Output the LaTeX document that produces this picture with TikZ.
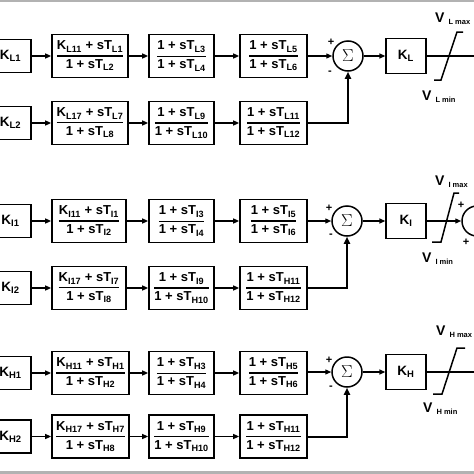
\documentclass[tikz,border=0pt]{standalone}
\usepackage{amsmath}
\usepackage{fontspec}
\setmainfont{Liberation Sans}
\usetikzlibrary{arrows.meta}
\newcommand\tfr[2]{$\genfrac{}{}{1.1pt}{0}{\text{#1}}{\text{#2}}$}
\newcommand\sbs[1]{\textsubscript{#1}}
\newcommand\vsub[1]{V\hspace{4pt}\raisebox{-2.5pt}{\fontsize{7.5}{9}\selectfont #1}}
\begin{document}
\begin{tikzpicture}[x=1pt,y=-1pt,
  tfbox/.style={draw,line width=1.7pt,minimum height=43pt,inner sep=0pt,font=\fontsize{13}{15}\selectfont\bfseries},
  gbox/.style={draw,line width=1.7pt,minimum width=41pt,minimum height=33pt,inner sep=0pt,font=\fontsize{13.5}{15}\selectfont\bfseries},
  kbox/.style={draw,line width=1.3pt,minimum width=40pt,minimum height=35pt,inner sep=0pt,font=\fontsize{13.5}{15}\selectfont\bfseries},
  sumc/.style={draw,circle,line width=1.5pt,minimum size=30pt,inner sep=0pt,font=\fontsize{17}{17}\selectfont},
  flow/.style={line width=1.3pt,-{Triangle[length=6pt,width=5pt]}},
  plain/.style={line width=1.3pt},
  fb/.style={line width=2pt,-{Triangle[length=7pt,width=6pt]}},
  lim/.style={line width=1.5pt},
  sgn/.style={inner sep=0pt,font=\fontsize{11}{12}\selectfont\bfseries},
  vlab/.style={anchor=base west,inner sep=0pt,font=\fontsize{14}{16}\selectfont\bfseries}]
\clip (0,0) rectangle (474,474);
\fill[white] (0,0) rectangle (474,474);
\fill[gray!60] (0,0) rectangle (474,2);
\fill[gray!60] (0,470.5) rectangle (474,474);

% ---------- L channel ----------
\node[gbox] (kl1) at (10.5,56) {K\sbs{L1}};
\node[tfbox,minimum width=76pt] (l2) at (90,56) {\tfr{K\sbs{L11} + sT\sbs{L1}}{1 + sT\sbs{L2}}};
\node[tfbox,minimum width=65pt] (l3) at (181.5,56) {\tfr{1 + sT\sbs{L3}}{1 + sT\sbs{L4}}};
\node[tfbox,minimum width=67pt] (l4) at (273.5,56) {\tfr{1 + sT\sbs{L5}}{1 + sT\sbs{L6}}};
\node[sumc] (sl) at (348,56) {$\Sigma$};
\node[kbox] (kl) at (406,56) {K\sbs{L}};
\node[gbox] (kl2) at (10.5,123) {K\sbs{L2}};
\node[tfbox,minimum width=76pt] (l8) at (90,123) {\tfr{K\sbs{L17} + sT\sbs{L7}}{1 + sT\sbs{L8}}};
\node[tfbox,minimum width=65pt] (l9) at (181.5,123) {\tfr{1 + sT\sbs{L9}}{1 + sT\sbs{L10}}};
\node[tfbox,minimum width=67pt] (l10) at (273.5,123) {\tfr{1 + sT\sbs{L11}}{1 + sT\sbs{L12}}};
\coordinate (lout) at (474,56);
\draw[flow] (kl1) -- (l2);
\draw[flow] (l2) -- (l3);
\draw[flow] (l3) -- (l4);
\draw[flow] (l4) -- (sl);
\draw[flow] (sl) -- (kl);
\draw[flow] (kl2) -- (l8);
\draw[flow] (l8) -- (l9);
\draw[flow] (l9) -- (l10);
\draw[fb] (l10.east) -| (sl.south);
\draw[plain] (kl.east) -- (lout);
\draw[lim] (434,80) -- (441,80) -- (457,32) -- (463,32);
\node[sgn] (slp) at (331,42) {+};
\node[sgn] (slm) at (330,73) {-};
\node[vlab] (vlmax) at (435,22) {\vsub{L max}};
\node[vlab] (vlmin) at (422,100) {\vsub{L min}};

% ---------- I channel ----------
\node[gbox] (ki1) at (10.5,221) {K\sbs{I1}};
\node[tfbox,minimum width=74pt] (i2) at (89,221) {\tfr{K\sbs{I11} + sT\sbs{I1}}{1 + sT\sbs{I2}}};
\node[tfbox,minimum width=65pt] (i3) at (181.5,221) {\tfr{1 + sT\sbs{I3}}{1 + sT\sbs{I4}}};
\node[tfbox,minimum width=67pt] (i4) at (273.5,221) {\tfr{1 + sT\sbs{I5}}{1 + sT\sbs{I6}}};
\node[sumc] (si) at (347,221) {$\Sigma$};
\node[kbox] (ki) at (406,221) {K\sbs{I}};
\node[sumc] (si2) at (477,221) {};
\node[gbox] (ki2) at (10.5,288) {K\sbs{I2}};
\node[tfbox,minimum width=74pt] (i8) at (89,288) {\tfr{K\sbs{I17} + sT\sbs{I7}}{1 + sT\sbs{I8}}};
\node[tfbox,minimum width=65pt] (i9) at (181.5,288) {\tfr{1 + sT\sbs{I9}}{1 + sT\sbs{H10}}};
\node[tfbox,minimum width=67pt] (i10) at (273.5,288) {\tfr{1 + sT\sbs{H11}}{1 + sT\sbs{H12}}};
\draw[flow] (ki1) -- (i2);
\draw[flow] (i2) -- (i3);
\draw[flow] (i3) -- (i4);
\draw[flow] (i4) -- (si);
\draw[flow] (si) -- (ki);
\draw[flow] (ki2) -- (i8);
\draw[flow] (i8) -- (i9);
\draw[flow] (i9) -- (i10);
\draw[fb] (i10.east) -| (si.south);
\draw[flow] (ki.east) -- (si2.west);
\draw[lim] (432,242) -- (441,242) -- (454,193) -- (459,193);
\node[sgn] (sip) at (329,208) {+};
\node[sgn] (sim) at (331,236) {-};
\node[sgn] (si2a) at (461,205) {+};
\node[sgn] (si2b) at (466,242) {+};
\node[vlab] (vimax) at (435,185) {\vsub{I max}};
\node[vlab] (vimin) at (422,262) {\vsub{I min}};

% ---------- H channel ----------
\node[gbox] (kh1) at (10.5,373) {K\sbs{H1}};
\node[tfbox,minimum width=77pt] (h2) at (90.5,373) {\tfr{K\sbs{H11} + sT\sbs{H1}}{1 + sT\sbs{H2}}};
\node[tfbox,minimum width=65pt] (h3) at (181.5,373) {\tfr{1 + sT\sbs{H3}}{1 + sT\sbs{H4}}};
\node[tfbox,minimum width=67pt] (h4) at (273.5,373) {\tfr{1 + sT\sbs{H5}}{1 + sT\sbs{H6}}};
\node[sumc] (sh) at (347,372) {$\Sigma$};
\node[kbox] (kh) at (406,372) {K\sbs{H}};
\node[gbox] (kh2) at (10.5,436.5) {K\sbs{H2}};
\node[tfbox,minimum width=77pt] (h8) at (90.5,436.5) {\tfr{K\sbs{H17} + sT\sbs{H7}}{1 + sT\sbs{H8}}};
\node[tfbox,minimum width=65pt] (h9) at (181.5,436.5) {\tfr{1 + sT\sbs{H9}}{1 + sT\sbs{H10}}};
\node[tfbox,minimum width=67pt] (h10) at (273.5,436.5) {\tfr{1 + sT\sbs{H11}}{1 + sT\sbs{H12}}};
\coordinate (hout) at (474,372);
\draw[flow] (kh1) -- (h2);
\draw[flow] (h2) -- (h3);
\draw[flow] (h3) -- (h4);
\draw[flow] (h4.east |- sh.west) -- (sh);
\draw[flow] (sh) -- (kh);
\draw[flow] (kh2) -- (h8);
\draw[flow] (h8) -- (h9);
\draw[flow] (h9) -- (h10);
\draw[fb] (h10.east) -| (sh.south);
\draw[plain] (kh.east) -- (hout);
\draw[lim] (433,394) -- (442,394) -- (457,348) -- (465,348);
\node[sgn] (shp) at (329,360) {+};
\node[sgn] (shm) at (331,388) {-};
\node[vlab] (vhmax) at (436,335) {\vsub{H max}};
\node[vlab] (vhmin) at (423,412) {\vsub{H min}};
\end{tikzpicture}
\end{document}
